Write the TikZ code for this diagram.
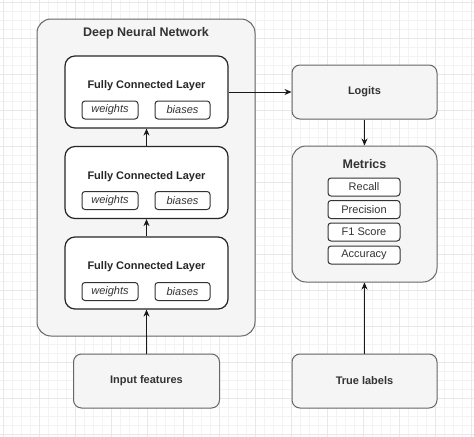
\documentclass[tikz,border=0pt]{standalone}
\usepackage{fontspec}
\setmainfont{Liberation Sans}
\usetikzlibrary{arrows.meta}
\definecolor{panel}{HTML}{F5F5F5}
\definecolor{panelline}{HTML}{666666}
\definecolor{paneltext}{HTML}{333333}
\definecolor{gridline}{HTML}{E8E8E8}
\definecolor{gridfine}{HTML}{F3F3F3}

\begin{document}
\begin{tikzpicture}[
  container/.style={draw=panelline,fill=panel,line width=1bp,rounded corners=14bp,inner sep=0pt},
  layerbox/.style={draw=black!85,fill=white,line width=1.2bp,rounded corners=10bp,minimum width=163bp,minimum height=72bp,inner sep=0pt},
  tagbox/.style={draw=black!80,fill=white,line width=1bp,rounded corners=3bp,minimum height=18bp,inner sep=0pt,text=paneltext,font=\fontsize{11bp}{13bp}\selectfont\itshape},
  metricbox/.style={draw=black!80,fill=white,line width=1bp,rounded corners=3bp,minimum width=72bp,minimum height=18bp,inner sep=0pt,text=paneltext,font=\fontsize{11bp}{13bp}\selectfont},
  iobox/.style={draw=panelline,fill=panel,line width=1bp,rounded corners=8bp,minimum width=145bp,minimum height=54bp,inner sep=0pt,text=paneltext,font=\fontsize{11bp}{13bp}\selectfont\bfseries},
  heading/.style={inner sep=0pt,text=paneltext,font=\fontsize{12.5bp}{15bp}\selectfont\bfseries},
  layertitle/.style={inner sep=0pt,text=black!85,font=\fontsize{11bp}{13bp}\selectfont\bfseries},
  link/.style={-{Stealth[length=7bp,width=6bp]},line width=1bp,draw=black!90}
]

\useasboundingbox (0bp,0bp) rectangle (474bp,-437bp);
\fill[white] (0bp,0bp) rectangle (474bp,-437bp);

% background grid
\begin{scope}
\clip (0bp,0bp) rectangle (474bp,-437bp);
\draw[gridfine,line width=0.6bp,shift={(3.7bp,-2.7bp)}] (-36bp,36bp) grid[step=9bp] (504bp,-468bp);
\draw[gridline,line width=0.8bp,shift={(3.7bp,-2.7bp)}] (-36bp,36bp) grid[step=36bp] (504bp,-468bp);
\end{scope}

% network
\node (DNN) at (146bp,-177.5bp)[container,minimum width=218bp,minimum height=317bp] {};
\node (DNNtitle) at (146bp,-33bp)[heading] {Deep Neural Network};

\node (FC1) at (146.5bp,-92bp)[layerbox] {};
\node (FC1title) at (146.5bp,-86bp)[layertitle] {Fully Connected Layer};
\node (FC1w) at (110bp,-110bp)[tagbox,minimum width=56bp] {weights};
\node (FC1b) at (182.5bp,-110bp)[tagbox,minimum width=55bp] {biases};

\node (FC2) at (146.5bp,-182.5bp)[layerbox] {};
\node (FC2title) at (146.5bp,-176.5bp)[layertitle] {Fully Connected Layer};
\node (FC2w) at (110bp,-200.5bp)[tagbox,minimum width=56bp] {weights};
\node (FC2b) at (182.5bp,-200.5bp)[tagbox,minimum width=55bp] {biases};

\node (FC3) at (146.5bp,-273bp)[layerbox] {};
\node (FC3title) at (146.5bp,-267bp)[layertitle] {Fully Connected Layer};
\node (FC3w) at (110bp,-291.5bp)[tagbox,minimum width=56bp] {weights};
\node (FC3b) at (182.5bp,-291.5bp)[tagbox,minimum width=55bp] {biases};

% outputs
\node (Logits) at (364.5bp,-92bp)[iobox] {Logits};
\node (Metrics) at (364.5bp,-214bp)[container,minimum width=145bp,minimum height=136bp] {};
\node (Metricstitle) at (364.5bp,-164bp)[heading] {Metrics};
\node (Recall) at (364bp,-187bp)[metricbox] {Recall};
\node (Precision) at (364bp,-209.5bp)[metricbox] {Precision};
\node (Fscore) at (364bp,-232bp)[metricbox] {F1 Score};
\node (Accuracy) at (364bp,-255bp)[metricbox] {Accuracy};

% inputs
\node (Input) at (146.5bp,-381bp)[iobox,minimum width=146bp] {Input features};
\node (Truth) at (364.5bp,-381bp)[iobox] {True labels};

\draw [link] (Input) -- (FC3);
\draw [link] (FC3) -- (FC2);
\draw [link] (FC2) -- (FC1);
\draw [link] (FC1) -- (Logits);
\draw [link] (Logits) -- (Metrics);
\draw [link] (Truth) -- (Metrics);
\end{tikzpicture}
\end{document}
